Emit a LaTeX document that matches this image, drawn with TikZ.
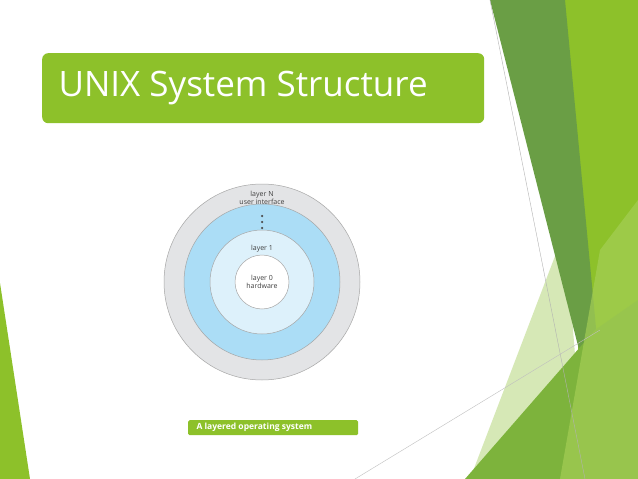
\documentclass[tikz,border=0pt]{standalone}
\usepackage{fontspec}
\setmainfont{Open Sans}
\begin{document}
\begin{tikzpicture}[x=1pt,y=-1pt,
  ring/.style={draw=gray!70,line width=0.5pt},
  dotm/.style={circle, fill=black!70, inner sep=0pt, minimum size=2.5pt},
  lbl/.style={font=\fontsize{7}{7.5}\selectfont, text=black!75, align=center, inner sep=0pt}]
\definecolor{gA}{HTML}{8DC12A}
\definecolor{gD}{HTML}{6A9E45}
\definecolor{gM}{HTML}{7DB33C}
\definecolor{gL}{HTML}{D6E8B6}
\definecolor{rg}{HTML}{E3E4E6}
\definecolor{rb}{HTML}{ABDDF6}
\definecolor{rl}{HTML}{DDF1FB}
\useasboundingbox (0,0) rectangle (638,479);
\fill[white] (0,0) rectangle (638,479);
% right decorations
\fill[gA] (560,0) -- (638,0) -- (638,479) -- (585,479) -- cycle;
\fill[gL] (470,479) -- (565,230) -- (585,479) -- cycle;
\fill[gD] (490,0) -- (565,0) -- (600,370) -- (588,385) -- cycle;
\fill[gM] (465,479) -- (595,330) -- (638,300) -- (638,479) -- cycle;
\fill[gA!80!white,opacity=0.7] (560,479) -- (600,250) -- (638,200) -- (638,479) -- cycle;
\fill[gA] (0,283) -- (30,479) -- (0,479) -- cycle;
\draw[gray!60,line width=0.4pt] (490,0) -- (585,479);
\draw[gray!50,line width=0.4pt] (355,479) -- (600,330);
% title
\node[fill=gA, rounded corners=6pt, minimum width=442pt, minimum height=70pt, anchor=north west, inner sep=0pt] (title) at (42,53) {};
\node[text=white, anchor=west, font=\fontsize{35}{35}\selectfont] (ttxt) at (55,88) {UNIX System Structure};
% rings
\node[circle, ring, fill=rg, minimum size=196pt, inner sep=0pt] (outer) at (262,282) {};
\node[circle, ring, fill=rb, minimum size=156pt, inner sep=0pt] (blue) at (262,282) {};
\node[circle, ring, fill=rl, minimum size=104pt, inner sep=0pt] (light) at (262,282) {};
\node[circle, ring, fill=white, minimum size=54pt, inner sep=0pt] (core) at (262,282) {};
\node[lbl] (ln) at (262,198) {layer N\\user interface};
\node[dotm] (d1) at (262,216) {};
\node[dotm] (d2) at (262,222) {};
\node[dotm] (d3) at (262,228) {};
\node[lbl] (l1) at (262,249) {layer 1};
\node[lbl] (l0) at (262,282) {layer 0\\hardware};
% caption
\node[fill=gA, rounded corners=1.5pt, minimum width=170pt, minimum height=15pt, anchor=north west, inner sep=0pt] (cap) at (188,420) {};
\node[text=white, anchor=west, font=\fontsize{8.5}{9}\selectfont\bfseries] (ctxt) at (193,427.5) {A layered operating system};
\end{tikzpicture}
\end{document}
